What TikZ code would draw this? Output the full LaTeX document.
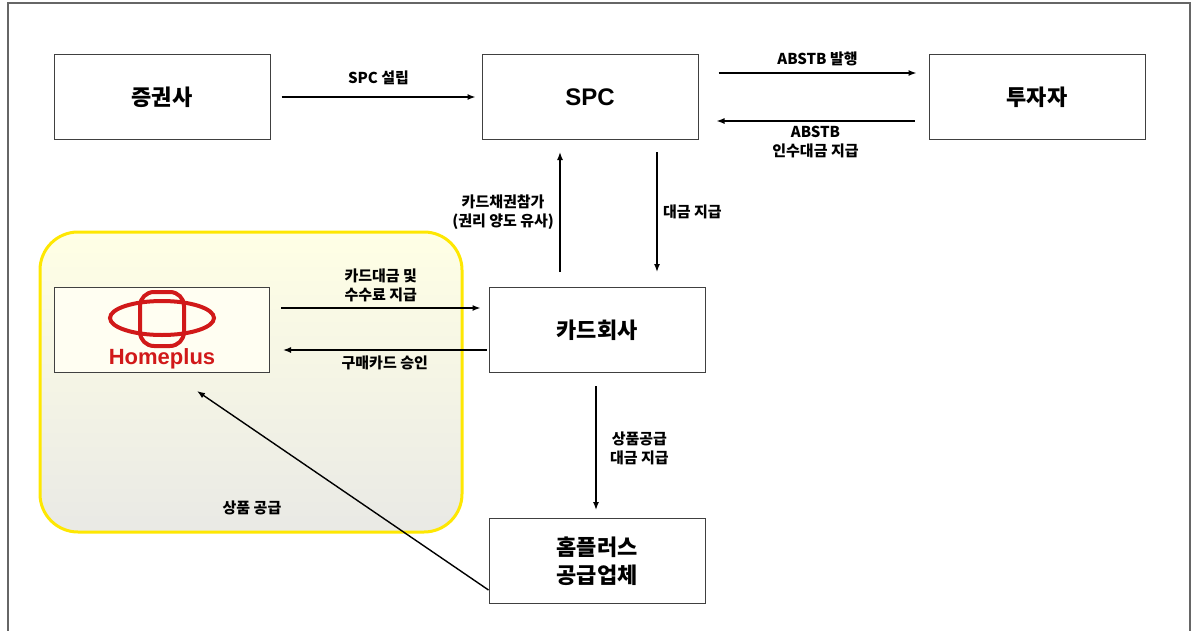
\documentclass[tikz,border=0pt]{standalone}
\usepackage{fontspec}
\setmainfont{Noto Sans CJK KR}
\newfontfamily\lsans{Liberation Sans}
\usetikzlibrary{arrows.meta,calc}
\begin{document}
\begin{tikzpicture}[x=1pt,y=-1pt,
  bx/.style={draw=black!75,line width=1pt,minimum width=216pt,minimum height=85pt,font=\fontsize{22}{26}\selectfont\bfseries},
  ar/.style={-{Latex[length=8pt,width=6pt]},line width=1.4pt},
  lb/.style={font=\fontsize{15}{19}\selectfont\bfseries,align=center}]
\useasboundingbox (0,0) rectangle (1200,630);
\draw[black!60,line width=1.5pt] (8,640) -- (8,3) -- (1190,3) -- (1190,640);
\path[draw=yellow!90!orange,line width=3pt,rounded corners=38pt,top color=white!90!yellow,bottom color=yellow!15!black!10] (40,232) rectangle (462,532);
\node[bx] (a) at (162,97) {증권사};
\node[bx] (s) at (590,97) {\lsans\fontsize{24}{28}\selectfont SPC};
\node[bx] (t) at (1037,97) {투자자};
\node[bx] (k) at (597,330) {카드회사};
\node[bx,align=center,font=\fontsize{22}{28}\selectfont\bfseries] (h) at (597,561) {홈플러스\\공급업체};
\node[draw=black!75,line width=1pt,minimum width=215pt,minimum height=85pt,fill=white!95!yellow] (hp) at (162,330) {};
\draw[red!80!black!90!white,line width=4pt] (162,318) ellipse (52pt and 17pt);
\draw[red!80!black!90!white,line width=4pt,rounded corners=14pt] (140,292) rectangle (184,346);
\node[red!80!black!90!white,font=\lsans\bfseries\fontsize{22}{24}\selectfont] at (162,359) {Homeplus};
% top row
\draw[ar] ($(a.east)+(11,0)$) -- ($(s.west)+(-6,0)$) node[lb,midway,above=8pt] {SPC 설립};
\draw[ar] ($(s.east)+(20,-24)$) -- ($(t.west)+(-12,-24)$) node[lb,midway,above=3pt] {ABSTB 발행};
\draw[ar] ($(t.west)+(-14,24)$) -- ($(s.east)+(18,24)$) node[lb,midway,below=1pt] {ABSTB\\인수대금 지급};
% SPC <-> card
\draw[ar] ($(k.north)+(-37,-15)$) -- ($(s.south)+(-30,12)$) node[lb,midway,left=2pt] {카드채권참가\\(권리 양도 유사)};
\draw[ar] ($(s.south)+(67,12)$) -- ($(k.north)+(60,-15)$) node[lb,midway,right=2pt] {대금 지급};
% homeplus <-> card
\draw[ar] ($(hp.east)+(11,-22)$) -- ($(k.west)+(-8,-22)$) node[lb,midway,above=2pt] {카드대금 및\\수수료 지급};
\draw[ar] ($(k.west)+(-2,20)$) -- ($(hp.east)+(13,20)$) node[lb,midway,below=2pt] {구매카드 승인};
\draw[ar] ($(k.south)+(-1,13)$) -- ($(h.north)+(-1,-8)$) node[lb,midway,right=10pt] {상품공급\\대금 지급};
\draw[ar] ($(h.west)+(0,29)$) -- ($(hp.south)+(35,18)$);
\node[lb] (sg) at (252,508) {상품 공급};
\end{tikzpicture}
\end{document}
